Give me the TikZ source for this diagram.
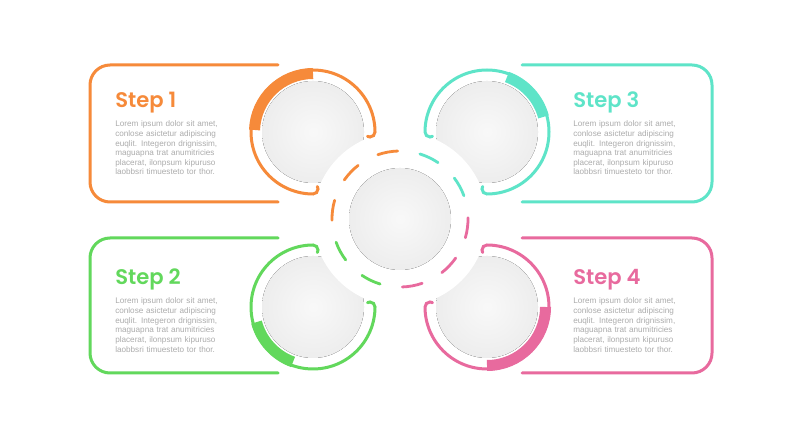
\documentclass[tikz,border=0pt]{standalone}
\usepackage{fontspec}
\setmainfont{Liberation Sans}
\newfontfamily\headfont{Poppins SemiBold}
\usetikzlibrary{positioning}
\definecolor{stepOrange}{RGB}{246,138,58}
\definecolor{stepTeal}{RGB}{94,228,200}
\definecolor{stepGreen}{RGB}{98,216,92}
\definecolor{stepPink}{RGB}{232,106,158}
\definecolor{loremGray}{RGB}{172,172,172}

\newcommand{\loremline}[1]{\makebox[2.8cm][s]{#1}}
\newcommand{\loremtext}{%
\loremline{Lorem ipsum dolor sit amet,}\\
\loremline{conlose asictetur adipiscing}\\
\loremline{euqlit. Integeron drignissim,}\\
\loremline{maguapna trat anumitricies}\\
\loremline{placerat, ilonpsum kipuruso}\\
\loremline{laobbsri timuesteto tor thor.}}

\begin{document}
\begin{tikzpicture}[x=0.025cm,y=0.025cm,line cap=round,
  frame line/.style={line width=0.075cm,rounded corners=0.5cm},
  ring line/.style={line width=0.075cm},
  ring band/.style={line width=0.275cm,line cap=butt},
  grey disc/.style={shading=radial,inner color=gray!5,outer color=gray!14},
  dash seg/.style={line width=0.07cm},
  steptitle/.style={font=\headfont\fontsize{15}{18}\selectfont,
  inner sep=0pt,anchor=base west},
  steptext/.style={font=\fontsize{5.8}{6.85}\selectfont,text=loremGray,
  inner sep=0pt,align=left,text width=2.8cm}]
\useasboundingbox[fill=white] (0,0) rectangle (800,439);
%------------------------------------------------------------------------
% The centres
%------------------------------------------------------------------------
\coordinate (c0) at (400,220);
\coordinate (c1) at (313,307);
\coordinate (c3) at (487,307);
\coordinate (c2) at (313,132);
\coordinate (c4) at (487,132);
%------------------------------------------------------------------------
% The frames
%------------------------------------------------------------------------
\draw[frame line,stepOrange] (278,374) -- (90,374) -- (90,237) -- (278,237);
\draw[frame line,stepTeal] (522,374) -- (712,374) -- (712,237) -- (522,237);
\draw[frame line,stepGreen] (278,201) -- (90,201) -- (90,66) -- (278,66);
\draw[frame line,stepPink] (522,201) -- (712,201) -- (712,66) -- (522,66);
%------------------------------------------------------------------------
% The step discs and the white hub
%------------------------------------------------------------------------
\foreach \c in {c1,c2,c3,c4}
  \fill[grey disc] (\c) circle[radius=51];
\fill[white] (c0) circle[radius=87];
\foreach \c/\col/\rs/\ts/\te in {c1/stepOrange/0/90/178,c3/stepTeal/270/15/70,
  c2/stepGreen/90/195/250,c4/stepPink/180/270/360}{
  \draw[ring line,\col] ([shift={(\rs+135:62)}]\c) arc[start angle=\rs+135,delta angle=135,radius=62]
    arc[start angle=\rs+270,delta angle=120,radius=5];
  \draw[ring line,\col] ([shift={(\rs+135:62)}]\c) arc[start angle=\rs+135,delta angle=-135,radius=62]
    arc[start angle=\rs,delta angle=-120,radius=5];
  \draw[ring band,\col] ([shift={(\ts:58.5)}]\c) arc[start angle=\ts,end angle=\te,radius=58.5];
}
\fill[grey disc] (c0) circle[radius=51];
% dashed ring round the hub
\foreach \a/\col in {344/stepPink,20/stepTeal,56/stepTeal,92/stepOrange,128/stepOrange,
  164/stepOrange,200/stepGreen,236/stepGreen,272/stepPink,308/stepPink}
  \draw[dash seg,\col] ([shift={(\a:68)}]c0) arc[start angle=\a,delta angle=17,radius=68];
%------------------------------------------------------------------------
% The texts
%------------------------------------------------------------------------
\node[steptitle,text=stepOrange] (h1) at (115,331) {Step 1};
\node[steptext,below=0.17cm of h1.south west,anchor=north west] (t1) {\loremtext};
\node[steptitle,text=stepGreen] (h2) at (115,154) {Step 2};
\node[steptext,below=0.17cm of h2.south west,anchor=north west] (t2) {\loremtext};
\node[steptitle,text=stepTeal] (h3) at (573,331) {Step 3};
\node[steptext,below=0.17cm of h3.south west,anchor=north west] (t3) {\loremtext};
\node[steptitle,text=stepPink] (h4) at (573,154) {Step 4};
\node[steptext,below=0.17cm of h4.south west,anchor=north west] (t4) {\loremtext};

\end{tikzpicture}
\end{document}
